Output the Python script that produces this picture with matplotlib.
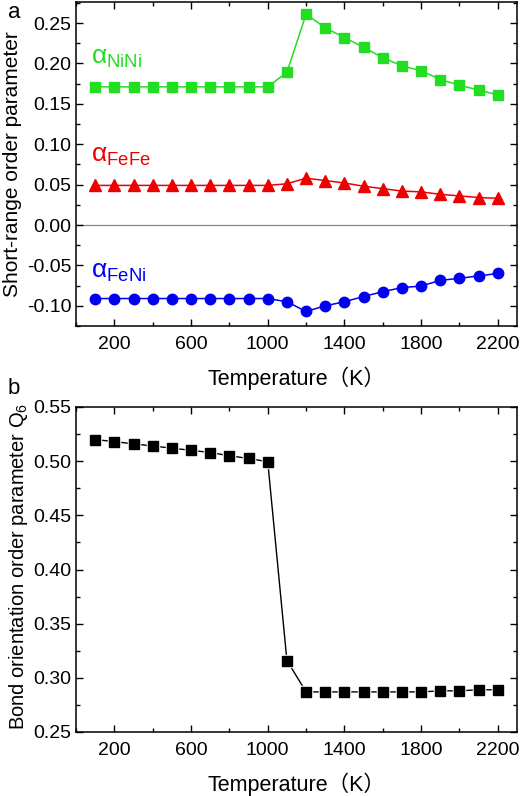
import matplotlib
matplotlib.use("Agg")
import matplotlib.pyplot as plt
from matplotlib.ticker import MultipleLocator

plt.rcParams['font.family'] = ['Liberation Sans', 'Noto Sans CJK SC', 'DejaVu Sans']
plt.rcParams['mathtext.fontset'] = 'custom'
plt.rcParams['mathtext.rm'] = 'Liberation Sans'
plt.rcParams['mathtext.it'] = 'Liberation Sans:italic'

temps = list(range(100, 2300, 100))
ni_ni = [0.171]*10 + [0.189, 0.261, 0.244, 0.232, 0.220, 0.207, 0.197, 0.191, 0.180, 0.173, 0.167, 0.161]
fe_fe = [0.049]*10 + [0.051, 0.058, 0.055, 0.052, 0.048, 0.045, 0.042, 0.041, 0.038, 0.036, 0.034, 0.033]
fe_ni = [-0.091]*10 + [-0.095, -0.107, -0.100, -0.095, -0.0885, -0.0825, -0.0775, -0.0755, -0.0685, -0.066, -0.063, -0.060]
q6 = [0.520, 0.518, 0.516, 0.514, 0.512, 0.510, 0.508, 0.505, 0.5025, 0.4995,
      0.316, 0.287, 0.287, 0.287, 0.287, 0.287, 0.287, 0.287, 0.288, 0.288, 0.289, 0.289]

xticks = [200, 600, 1000, 1400, 1800, 2200]

fig = plt.figure(figsize=(5.2, 7.96), dpi=100)
ax1 = fig.add_axes([76/520, 1-326/796, 441/520, 324/796])
ax2 = fig.add_axes([76/520, 1-732/796, 441/520, 325/796])

green = '#22dd22'
red = '#ee0000'
blue = '#0000ee'

ax1.axhline(0, color='#888888', lw=0.9, zorder=1)
ax1.plot(temps, ni_ni, '-s', color=green, ms=7, lw=1.1)
ax1.plot(temps, fe_fe, '-^', color=red, ms=8, lw=1.1)
ax1.plot(temps, fe_ni, '-o', color=blue, ms=7.5, lw=1.1)

ax1.text(78, 0.207, r'$\mathrm{α}_{\mathrm{NiNi}}$', color=green, fontsize=19, va='center', ha='left')
ax1.text(78, 0.086, r'$\mathrm{α}_{\mathrm{FeFe}}$', color=red, fontsize=19, va='center', ha='left')
ax1.text(78, -0.058, r'$\mathrm{α}_{\mathrm{FeNi}}$', color=blue, fontsize=19, va='center', ha='left')

ax1.set_ylim(-0.125, 0.276)
ax1.set_yticks([-0.10, -0.05, 0.00, 0.05, 0.10, 0.15, 0.20, 0.25])
ax1.set_yticklabels(['-0.10', '-0.05', '0.00', '0.05', '0.10', '0.15', '0.20', '0.25'])
ax1.yaxis.set_minor_locator(MultipleLocator(0.025))
ax1.set_ylabel('Short-range order parameter', fontsize=15, labelpad=3)

ax2.plot(temps, q6, '-s', color='black', ms=7, lw=1.0,
         markeredgecolor='white', markeredgewidth=2.5)
ax2.plot(temps, q6, 's', color='black', ms=7, lw=0)
ax2.set_ylim(0.25, 0.55)
ax2.set_yticks([0.25, 0.30, 0.35, 0.40, 0.45, 0.50, 0.55])
ax2.set_yticklabels(['0.25', '0.30', '0.35', '0.40', '0.45', '0.50', '0.55'])
ax2.yaxis.set_minor_locator(MultipleLocator(0.025))
ax2.set_ylabel('Bond orientation order parameter Q$_6$', fontsize=14.5, labelpad=3)
ax2.yaxis.set_label_coords(-0.105, 0.51)

for ax in (ax1, ax2):
    ax.set_xlim(0, 2300)
    ax.set_xticks(xticks)
    ax.xaxis.set_minor_locator(MultipleLocator(200))
    ax.tick_params(which='both', direction='in', top=True, right=True, labelsize=14)
    ax.tick_params(which='major', length=5, width=1)
    ax.tick_params(which='minor', length=3, width=1)
    ax.tick_params(axis='x', which='major', pad=7)
    for s in ax.spines.values():
        s.set_linewidth(1.1)
    ax.set_xlabel('Temperature（K）', fontsize=15.5, labelpad=10)

fig.text(8/520, 1-12/796, 'a', fontsize=16, va='center', ha='left')
fig.text(8/520, 1-388/796, 'b', fontsize=16, va='center', ha='left')

fig.savefig('out.png', dpi=100)
